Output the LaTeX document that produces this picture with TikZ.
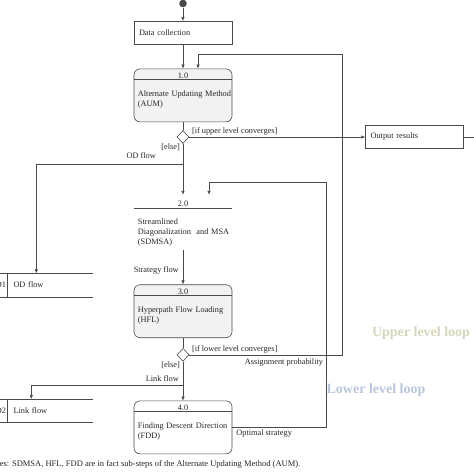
\documentclass[tikz,border=0pt]{standalone}
\usepackage{fontspec}
\setmainfont{Liberation Serif}
\usetikzlibrary{positioning,shapes.geometric,arrows.meta}
\definecolor{linegray}{HTML}{4A4A4A}
\definecolor{boxgray}{HTML}{F2F2F2}
\definecolor{upperloop}{HTML}{D5D6BA}
\definecolor{lowerloop}{HTML}{B8C6DB}
\newcommand\bw{98pt}
\newcommand\bh{53pt}
\newcommand\hd{11pt}
\newcommand\sw{85pt}
\tikzset{
  every node/.style={font=\fontsize{8.3}{10}\selectfont, text=black!85},
  flow/.style={draw=linegray, line width=0.6pt},
  arr/.style={-{Latex[length=4pt,width=3.5pt]}},
  proc/.style={draw=linegray, line width=0.6pt, rounded corners=6pt, minimum width=\bw, minimum height=\bh, inner sep=0pt},
  act/.style={draw=linegray, line width=0.6pt, minimum height=23pt, text width=88pt, inner xsep=5pt, align=left},
  dec/.style={draw=linegray, line width=0.6pt, diamond, minimum width=12pt, minimum height=13pt, inner sep=0pt, fill=white},
  store/.style={minimum height=23pt, text width=73pt, inner xsep=6pt, align=left},
  txt/.style={inner sep=0pt, text width=94pt, align=left},
  lbl/.style={inner sep=0pt},
  loopname/.style={inner sep=0pt, font=\fontsize{14}{16}\selectfont\bfseries},
}

\begin{document}
\begin{tikzpicture}[x=1pt, y=-1pt]
  \useasboundingbox (0,0) rectangle (474,474);
  \clip (0,0) rectangle (474,474);
  % main column
  \node[circle, fill=linegray, minimum size=7.6pt, inner sep=0pt] (start) at (183,3.5) {};
  \node[act, below=13.5pt of start] (datacol) {Data collection};
  \node[proc, fill=boxgray, below=24pt of datacol] (aum) {};
  \node[dec, below=8pt of aum] (upperdec) {};
  \node[proc, draw=none, below=53pt of upperdec] (sdmsa) {};
  \node[proc, fill=boxgray, below=34pt of sdmsa] (hfl) {};
  \node[dec, below=10pt of hfl] (lowerdec) {};
  \node[proc, below=39pt of lowerdec] (fdd) {};
  \node[act, right=176pt of upperdec] (output) {Output results};
  % step numbers and headers
  \node[lbl, below=4pt of aum.north] (aumno) {1.0};
  \node[lbl, below=4pt of sdmsa.north] (sdmsano) {2.0};
  \node[lbl, below=4pt of hfl.north] (hflno) {3.0};
  \node[lbl, below=4pt of fdd.north] (fddno) {4.0};
  \coordinate[below=\hd of aum.north] (aumhd);
  \coordinate[below=\hd of sdmsa.north] (sdmsahd);
  \coordinate[below=\hd of hfl.north] (hflhd);
  \coordinate[below=\hd of fdd.north] (fddhd);
  \draw[flow] (aum.west |- aumhd) -- (aum.east |- aumhd);
  \draw[flow] (sdmsa.west |- sdmsahd) -- (sdmsa.east |- sdmsahd);
  \draw[flow] (hfl.west |- hflhd) -- (hfl.east |- hflhd);
  \draw[flow] (fdd.west |- fddhd) -- (fdd.east |- fddhd);
  % step texts
  \node[txt, below right=22pt and 4pt of aum.north west] (aumtxt) {Alternate Updating Method\\(AUM)};
  \node[txt, below right=22pt and 4pt of sdmsa.north west] (sdmsatxt) {Streamlined\\Diagonalization\ \ and MSA\\(SDMSA)};
  \node[txt, below right=22pt and 4pt of hfl.north west] (hfltxt) {Hyperpath Flow Loading\\(HFL)};
  \node[txt, below right=22pt and 4pt of fdd.north west] (fddtxt) {Finding Descent Direction\\(FDD)};
  % data stores
  \node[store, below left=23pt and 41pt of sdmsa.south west] (odstore) {OD flow};
  \node[store, below left=61pt and 41pt of hfl.south west] (linkstore) {Link flow};
  \node[lbl, left=1pt of odstore] (odid) {D1};
  \node[lbl, left=1pt of linkstore] (linkid) {D2};
  \draw[flow] ([xshift=-20pt]odstore.north west) -- (odstore.north east);
  \draw[flow] ([xshift=-20pt]odstore.south west) -- (odstore.south east);
  \draw[flow] (odstore.north west) -- (odstore.south west);
  \draw[flow] ([xshift=-20pt]linkstore.north west) -- (linkstore.north east);
  \draw[flow] ([xshift=-20pt]linkstore.south west) -- (linkstore.south east);
  \draw[flow] (linkstore.north west) -- (linkstore.south west);
  % loop corners
  \coordinate[below=20pt of upperdec.south] (odsplit);
  \coordinate[below=24pt of lowerdec.south] (linksplit);
  \coordinate[right=15pt of output] (outend);
  \coordinate[above right=14pt and 159pt of aum.north] (upcorner);
  \coordinate[above right=14pt and 15pt of aum.north] (upturn);
  \coordinate[above right=15pt and 143pt of sdmsa.north] (lowcorner);
  \coordinate[above right=15pt and 26pt of sdmsa.north] (lowturn);
  % flows
  \draw[flow, arr] (start) -- (datacol);
  \draw[flow, arr] (datacol) -- (aum);
  \draw[flow] (aum) -- (upperdec);
  \draw[flow, arr, shorten >=2pt] (upperdec) -- (sdmsa);
  \draw[flow, arr] (odsplit) -| ([xshift=29pt]odstore.north west);
  \draw[flow, arr] (upperdec) -- (output);
  \draw[flow] (output) -- (outend);
  \draw[flow, arr] (sdmsa) -- node[lbl, left=4pt, pos=0.59] {Strategy flow} (hfl);
  \draw[flow] (hfl) -- (lowerdec);
  \draw[flow, arr] (lowerdec) -- (fdd);
  \draw[flow, arr] (linksplit) -| ([xshift=24pt]linkstore.north west);
  \draw[flow, arr] (lowerdec.east) -| node[lbl, below=3.8pt, pos=0.31] {Assignment probability} (upcorner) -- (upturn) -- (upturn |- aum.north);
  \draw[flow, arr, shorten >=2pt] (fdd.east) -| node[lbl, below=2.5pt, pos=0.17] {Optimal strategy} (lowcorner) -- (lowturn) -- (lowturn |- sdmsa.north);
  % guard labels
  \node[lbl, above right=2pt and 2.5pt of upperdec.east] (upconv) {[if upper level converges]};
  \node[lbl, above right=1pt and 2.5pt of lowerdec.east] (lowconv) {[if lower level converges]};
  \node[lbl, below left=0pt and 3pt of upperdec.south] (upelse) {[else]};
  \node[lbl, below left=0pt and 3pt of lowerdec.south] (lowelse) {[else]};
  \node[lbl, above left=5pt and 27pt of odsplit] (odlbl) {OD flow};
  \node[lbl, above left=4pt and 4pt of linksplit] (linklbl) {Link flow};
  % loop names and notes
  \node[loopname, text=upperloop] (upname) at (421,333) {Upper level loop};
  \node[loopname, text=lowerloop] (lowname) at (376,390) {Lower level loop};
  \node[lbl, anchor=east, font=\fontsize{8.5}{10}\selectfont] (notes) at (300.5,464) {Notes: SDMSA, HFL, FDD are in fact sub-steps of the Alternate Updating Method (AUM).};
\end{tikzpicture}
\end{document}
